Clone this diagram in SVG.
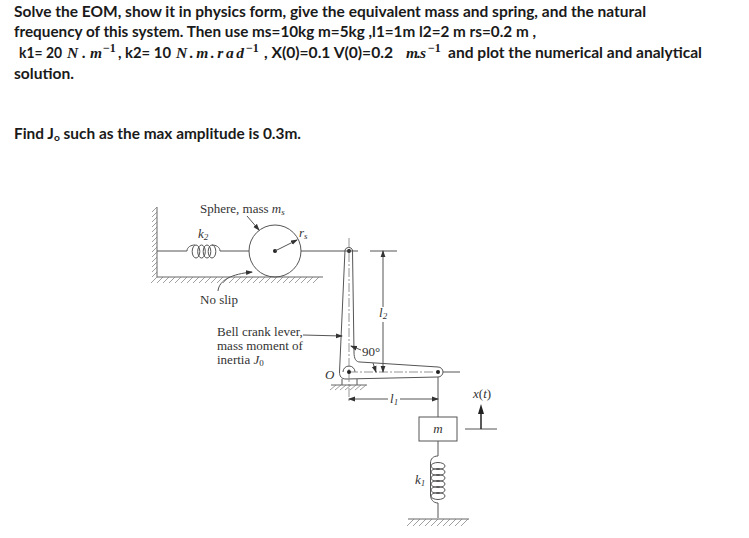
<svg xmlns="http://www.w3.org/2000/svg" width="749" height="538" viewBox="0 0 749 538">
<style>
.t{font-family:Lato,"Open Sans",sans-serif;font-weight:700;font-size:15px;fill:#1a1a1a}
.e{font-family:"Liberation Serif",serif;font-style:italic;font-weight:700;font-size:15.5px;fill:#1a1a1a}
.s{font-family:"Liberation Serif",serif;font-size:12px;font-weight:700;fill:#1a1a1a}
.d{font-family:"Liberation Serif",serif;font-size:13px;fill:#333}
.i{font-style:italic}
.l{fill:none;stroke:#555;stroke-width:1}
.h{fill:none;stroke:#777;stroke-width:.7}
.b{fill:none;stroke:#666;stroke-width:1}
.c{fill:none;stroke:#888;stroke-width:.9;stroke-dasharray:9 2 2 2}
.k{fill:#222}
</style>
<defs>
<marker id="a" markerWidth="7" markerHeight="6" refX="6" refY="3" orient="auto" markerUnits="userSpaceOnUse"><path d="M0 .6L7 3L0 5.400z" fill="#333"/></marker>
</defs>
<g id="problem-text">
<text class="t" x="14" y="17" textLength="632" lengthAdjust="spacingAndGlyphs">Solve the EOM, show it in physics form, give the equivalent mass and spring, and the natural</text>
<text class="t" x="14" y="37" textLength="522" lengthAdjust="spacingAndGlyphs">frequency of this system. Then use ms=10kg m=5kg ,l1=1m l2=2 m rs=0.2 m ,</text>
<text class="t" x="19" y="58" textLength="43" lengthAdjust="spacingAndGlyphs">k1= 20</text>
<text class="e" x="67" y="58" textLength="35">N.m</text>
<text class="s" x="103" y="52">−1</text>
<text class="t" x="118" y="58" textLength="53" lengthAdjust="spacingAndGlyphs">, k2= 10</text>
<text class="e" x="176" y="58" textLength="68">N.m.rad</text>
<text class="s" x="246" y="52">−1</text>
<text class="t" x="264" y="58" textLength="129" lengthAdjust="spacingAndGlyphs">, X(0)=0.1  V(0)=0.2</text>
<text class="e" x="406" y="58" textLength="20">m.s</text>
<text class="s" x="428" y="52">−1</text>
<text class="t" x="448" y="58" textLength="254" lengthAdjust="spacingAndGlyphs">and plot the numerical and analytical</text>
<text class="t" x="14" y="79" textLength="60" lengthAdjust="spacingAndGlyphs">solution.</text>
<text class="t" x="14" y="139" textLength="287" lengthAdjust="spacingAndGlyphs">Find J<tspan font-size="10" dy="2">o</tspan><tspan dy="-2"> such as the max amplitude is 0.3m.</tspan></text>
</g>
<g id="wall-and-floor">
<path class="b" d="M157 207V277H323"/>
<path class="h" d="M157 207l-5 5M157 212l-5 5M157 217l-5 5M157 222l-5 5M157 227l-5 5M157 232l-5 5M157 237l-5 5M157 242l-5 5M157 247l-5 5M157 252l-5 5M157 257l-5 5M157 262l-5 5M157 267l-5 5M157 272l-5 5M157 277l-6 6M163 277l-6 6M169 277l-6 6M175 277l-6 6M181 277l-6 6M187 277l-6 6M193 277l-6 6M199 277l-6 6M205 277l-6 6M211 277l-6 6M217 277l-6 6M223 277l-6 6M229 277l-6 6M235 277l-6 6M241 277l-6 6M247 277l-6 6M253 277l-6 6M259 277l-6 6M265 277l-6 6M271 277l-6 6M277 277l-6 6M283 277l-6 6M289 277l-6 6M295 277l-6 6M301 277l-6 6M307 277l-6 6M313 277l-6 6M319 277l-6 6"/>
</g>
<g id="sphere">
<circle class="l" cx="275" cy="251" r="26"/>
<circle class="k" cx="275" cy="251" r="2"/>
<text class="d" x="200" y="213">Sphere, mass <tspan class="i">m</tspan><tspan class="i" font-size="9" dy="2">s</tspan></text>
<text class="d i" x="299" y="237">r<tspan font-size="9" dy="2">s</tspan></text>
<text class="d" x="200" y="304">No slip</text>
</g>
<g id="spring-k2">
<path class="l" d="M187 251C187 247 191 245 195 245M220 251C220 247 216 245 212 245"/>
<ellipse class="l" cx="196" cy="251.500" rx="3.800" ry="6.500"/>
<ellipse class="l" cx="201.500" cy="251.500" rx="3.800" ry="6.500"/>
<ellipse class="l" cx="207" cy="251.500" rx="3.800" ry="6.500"/>
<ellipse class="l" cx="212" cy="251.500" rx="3.800" ry="6.500"/>
<text class="d i" x="198" y="238">k<tspan font-size="9" dy="2">2</tspan></text>
</g>
<g id="bell-crank">
<path class="l" d="M345 250A4 4 0 0 1 352.500 250L354 352C354 359 356 362 360 362L438 367A5 5 0 0 1 438 377L346 379C341 379 339.500 376 339.500 372Z" fill="#fff"/>
<path class="l" d="M343 372A6 6 0 0 1 355 372M342 379L342 385M357 379V385"/>
<path class="c" d="M349 238V403M349 372H434"/>
<circle class="k" cx="349" cy="251" r="2"/>
<circle class="k" cx="349" cy="372" r="2"/>
<circle class="k" cx="438" cy="372" r="2"/>
<path class="b" d="M331 385H367"/>
<path class="h" d="M336 385l-6 5M341 385l-6 5M346 385l-6 5M351 385l-6 5M356 385l-6 5M361 385l-6 5M366 385l-6 5"/>
<text class="d" x="217" y="336">Bell crank lever,</text>
<text class="d" x="217" y="350">mass moment of</text>
<text class="d" x="217" y="364">inertia <tspan class="i">J</tspan><tspan font-size="9" dy="2">0</tspan></text>
<text class="d i" x="325" y="379">O</text>
<text class="d" x="362" y="356">90°</text>
</g>
<g id="mass">
<rect class="l" x="419" y="417" width="38" height="24"/>
<text class="d i" x="438" y="433" text-anchor="middle">m</text>
</g>
<g id="spring-k1">
<path class="l" d="M438 441V456C433 456 430.500 459 430.500 463V495C430.500 499 433 503 438 503V518"/>
<ellipse class="l" cx="438" cy="466" rx="7" ry="3.500"/>
<ellipse class="l" cx="438" cy="472" rx="7" ry="3.500"/>
<ellipse class="l" cx="438" cy="478" rx="7" ry="3.500"/>
<ellipse class="l" cx="438" cy="484" rx="7" ry="3.500"/>
<ellipse class="l" cx="438" cy="490" rx="7" ry="3.500"/>
<ellipse class="l" cx="438" cy="496" rx="7" ry="3.500"/>
<text class="d i" x="415" y="484">k<tspan font-size="9" dy="2">1</tspan></text>
<path class="b" d="M408 519H469"/>
<path class="h" d="M414 519l-7 7M420 519l-7 7M426 519l-7 7M432 519l-7 7M438 519l-7 7M444 519l-7 7M450 519l-7 7M456 519l-7 7M462 519l-7 7M468 519l-7 7"/>
</g>
<g id="connectors">
<path class="l" d="M157 251H187M220 251H249M301 251H358M438 377V417"/>
<path class="l" d="M275 251L297 240" marker-end="url(#a)"/>
<path class="l" d="M247 216L259 230" marker-end="url(#a)"/>
<path class="l" d="M218 291C219 280 232 274 252 272" marker-end="url(#a)"/>
<path class="l" d="M303 335L342 336" marker-end="url(#a)"/>
<path class="l" d="M361 350L351 346" marker-end="url(#a)"/>
<path class="l" d="M373 363L376 372" marker-end="url(#a)"/>
<path class="l" d="M443 372H460M370 251H397"/>
<path class="l" d="M383 307V251" marker-end="url(#a)"/>
<path class="l" d="M383 322V372" marker-end="url(#a)"/>
<path class="l" d="M388 399H349" marker-end="url(#a)"/>
<path class="l" d="M400 399H438" marker-end="url(#a)"/>
<path d="M465 429H497" class="l"/>
<path d="M481 429V410" stroke="#222" stroke-width="1.500" fill="none"/>
<path d="M481 404L484 414H478Z" class="k"/>
<text class="d i" x="379" y="317">l<tspan font-size="9" dy="2">2</tspan></text>
<text class="d i" x="390" y="403">l<tspan font-size="9" dy="2">1</tspan></text>
<text class="d i" x="473" y="398">x<tspan font-style="normal">(</tspan>t<tspan font-style="normal">)</tspan></text>
</g>
</svg>
